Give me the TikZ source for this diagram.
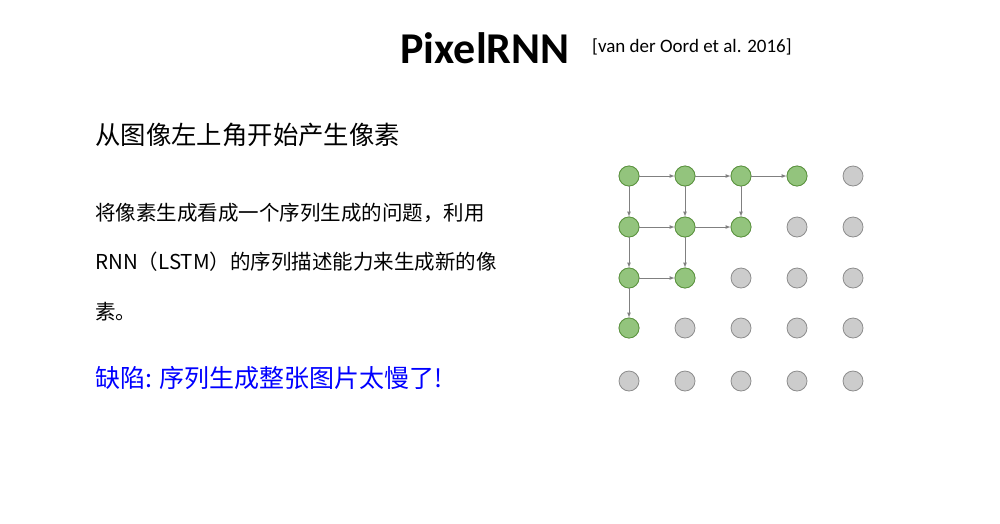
\documentclass[tikz,border=0pt]{standalone}
\usepackage{fontspec}
\setmainfont{Carlito}
\newfontfamily\cjk{Noto Sans CJK SC}
\definecolor{gfill}{RGB}{147,196,125}
\definecolor{gline}{RGB}{90,150,60}
\begin{document}
\begin{tikzpicture}[x=1pt,y=-1pt,
  gpx/.style={circle,draw=gline,fill=gfill,line width=0.8pt,minimum size=20pt,inner sep=0pt},
  ypx/.style={circle,draw=gray!90,fill=gray!40,line width=0.8pt,minimum size=20pt,inner sep=0pt},
  arr/.style={-latex,draw=gray,line width=0.7pt},
  txt/.style={anchor=west,inner sep=0pt}]
\useasboundingbox (0,0) rectangle (1000,523);
\node[anchor=center,font=\bfseries\fontsize{44}{48}\selectfont] (title) at (485,48) {PixelRNN};
\node[txt,font=\fontsize{19}{22}\selectfont] (ref) at (592,47) {[van der Oord et al. 2016]};
\node[txt,font=\cjk\fontsize{25.4}{30}\selectfont] (h1) at (95,135) {从图像左上角开始产生像素};
\node[txt,font=\cjk\fontsize{20.5}{24}\selectfont] (p1) at (95,213) {将像素生成看成一个序列生成的问题，利用};
\node[txt,font=\cjk\fontsize{20.5}{24}\selectfont] (p2) at (95,262) {RNN（LSTM）的序列描述能力来生成新的像};
\node[txt,font=\cjk\fontsize{20.5}{24}\selectfont] (p3) at (95,312) {素。};
\node[txt,font=\cjk\fontsize{25}{30}\selectfont,text=blue] (b) at (95,378) {缺陷: 序列生成整张图片太慢了!};
% grid
\foreach \i/\x in {1/629,2/685,3/741,4/797,5/853}{
  \foreach \j/\y in {1/176,2/227,3/278,4/328,5/381}{
    \node[ypx] (n\i\j) at (\x,\y) {};
  }}
\foreach \i/\j in {1/1,2/1,3/1,4/1,1/2,2/2,3/2,1/3,2/3,1/4}{
  \node[gpx] at (n\i\j) {};}
\draw[arr] (n11) -- (n21); \draw[arr] (n21) -- (n31); \draw[arr] (n31) -- (n41);
\draw[arr] (n12) -- (n22); \draw[arr] (n22) -- (n32); \draw[arr] (n13) -- (n23);
\draw[arr] (n11) -- (n12); \draw[arr] (n12) -- (n13); \draw[arr] (n13) -- (n14);
\draw[arr] (n21) -- (n22); \draw[arr] (n22) -- (n23); \draw[arr] (n31) -- (n32);
\end{tikzpicture}
\end{document}
